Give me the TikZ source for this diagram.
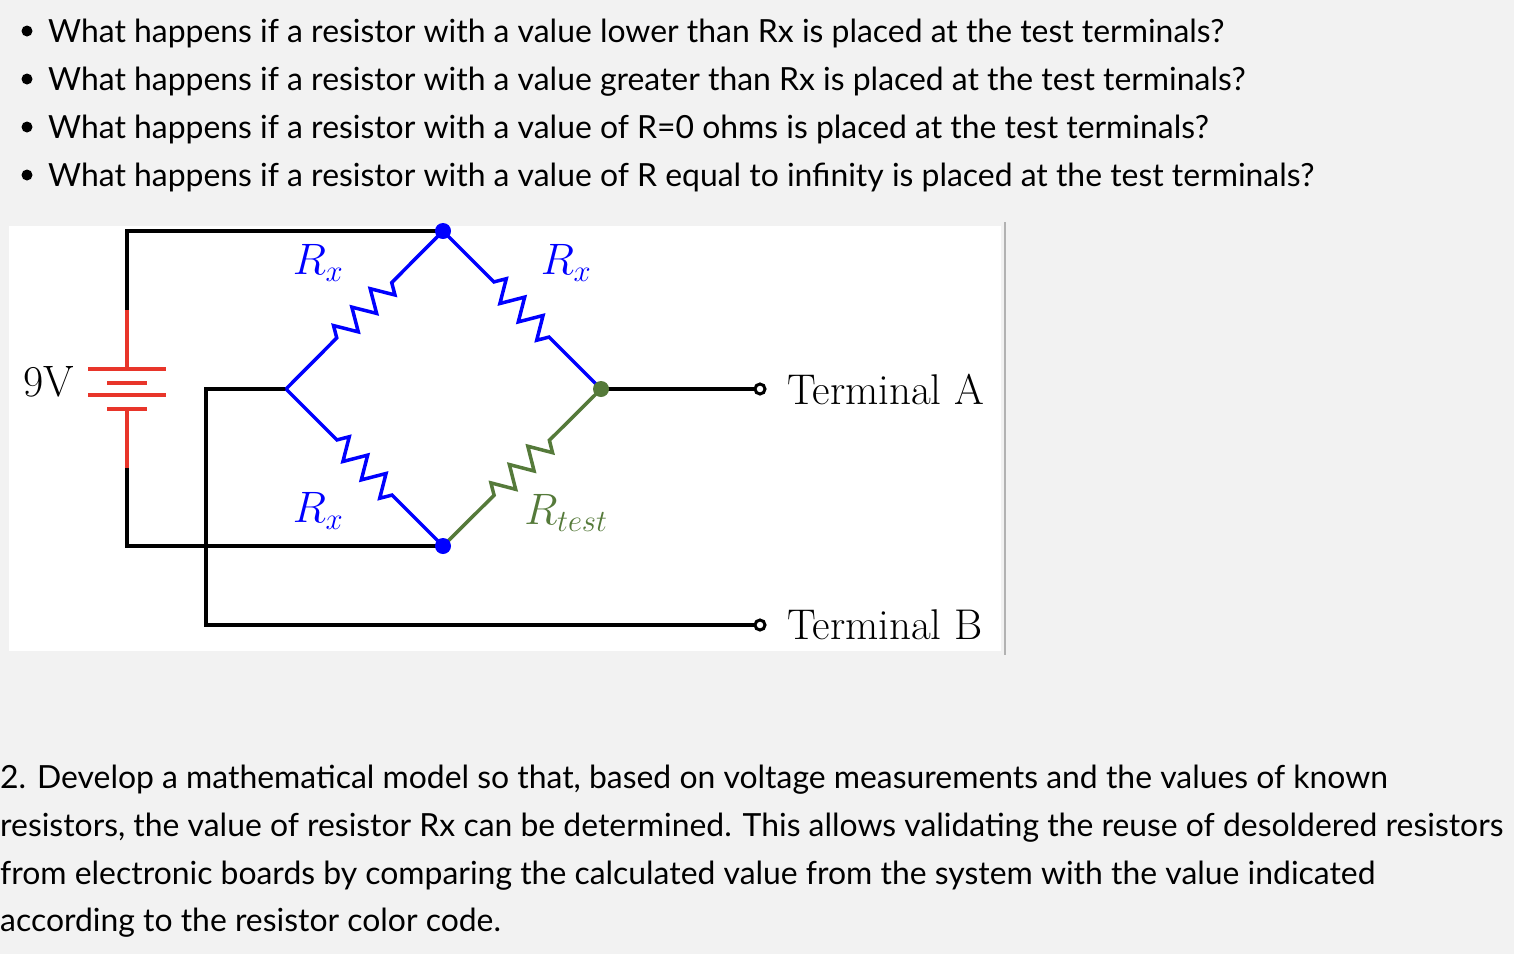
\RequirePackage{fix-cm}
\documentclass[tikz,border=0pt]{standalone}
\usepackage{fontspec}
\setmainfont{Lato}
\newfontfamily\lmfont{Latin Modern Roman}
\usetikzlibrary{decorations.pathmorphing}
\definecolor{bg}{HTML}{F2F2F2}
\definecolor{rgreen}{HTML}{557A3A}
\definecolor{rred}{HTML}{E8352A}
\begin{document}
\begin{tikzpicture}[x=1pt,y=-1pt,
  wire/.style={line width=3.5pt},
  res/.style={line width=3.5pt,decorate,decoration={zigzag,segment length=26pt,amplitude=11pt,pre length=72pt,post length=72pt}},
  qtext/.style={anchor=base west,inner sep=0pt,font=\fontsize{31.9}{36}\selectfont},
  lab/.style={inner sep=0pt,font=\fontsize{44}{48}\selectfont},
  term/.style={anchor=west,inner sep=0pt,font=\lmfont\fontsize{43}{48}\selectfont},
  dot/.style={circle,fill,inner sep=0pt,minimum size=16pt}]
\fill[bg] (0,0) rectangle (1514,954);
\useasboundingbox (0,0) rectangle (1514,954);
\fill[white] (9,226) rectangle (1001,651);
\draw[gray!60,line width=1.5pt] (1005,222) -- (1005,655);
% text
\foreach \y/\t in {42/{What happens if a resistor with a value lower than Rx is placed at the test terminals?},
  90/{What happens if a resistor with a value greater than Rx is placed at the test terminals?},
  138/{What happens if a resistor with a value of R=0 ohms is placed at the test terminals?},
  186/{What happens if a resistor with a value of R equal to infinity is placed at the test terminals?}}{
  \node[qtext] at (48,\y) {\t};
  \fill (27,\y-11) circle (5.5pt);
}
\node[qtext] (p1) at (0,788) {2. Develop a mathematical model so that, based on voltage measurements and the values of known};
\node[qtext] (p2) at (0,836) {resistors, the value of resistor Rx can be determined. This allows validating the reuse of desoldered resistors};
\node[qtext] (p3) at (0,884) {from electronic boards by comparing the calculated value from the system with the value indicated};
\node[qtext] (p4) at (0,931) {according to the resistor color code.};
% nodes
\coordinate (T) at (443,231);
\coordinate (L) at (286,389);
\coordinate (R) at (601,389);
\coordinate (B) at (443,546);
\coordinate (bt) at (127,310);
\coordinate (bb) at (127,468);
\coordinate (tl) at (127,231);
\coordinate (bl) at (127,546);
\coordinate (lw) at (206,389);
\coordinate (lb) at (206,625);
\coordinate (TA) at (760,389);
\coordinate (TB) at (760,625);
% wires
\draw[wire] (bt) -- (tl) -- (T);
\draw[wire] (bb) -- (bl) -- (B);
\draw[wire] (L) -- (lw) -- (lb) -- (TB);
\draw[wire] (R) -- (TA);
% battery
\draw[rred,line width=3.5pt] (bt) -- (127,369) (88,369) -- (166,369) (107,383) -- (147,383)
  (88,395) -- (166,395) (107,409) -- (147,409) (127,409) -- (bb);
\node[anchor=east,inner sep=0pt,font=\lmfont\fontsize{44}{48}\selectfont] (v) at (74,382) {9V};
% resistors
\draw[res,blue] (L) -- (T);
\draw[res,blue] (T) -- (R);
\draw[res,blue] (L) -- (B);
\draw[res,rgreen] (B) -- (R);
\node[lab,blue] (l1) at (318,263) {$R_x$};
\node[lab,blue] (l2) at (566,263) {$R_x$};
\node[lab,blue] (l3) at (318,511) {$R_x$};
\node[lab,rgreen] (l4) at (566,513) {$R_{test}$};
\node[dot,blue] at (T) {};
\node[dot,blue] at (B) {};
\node[dot,rgreen] at (R) {};
\draw[line width=3pt,fill=white] (TA) circle (5pt);
\draw[line width=3pt,fill=white] (TB) circle (5pt);
\node[term] (a) at (787,389) {Terminal A};
\node[term] (b) at (787,625) {Terminal B};
\end{tikzpicture}
\end{document}
